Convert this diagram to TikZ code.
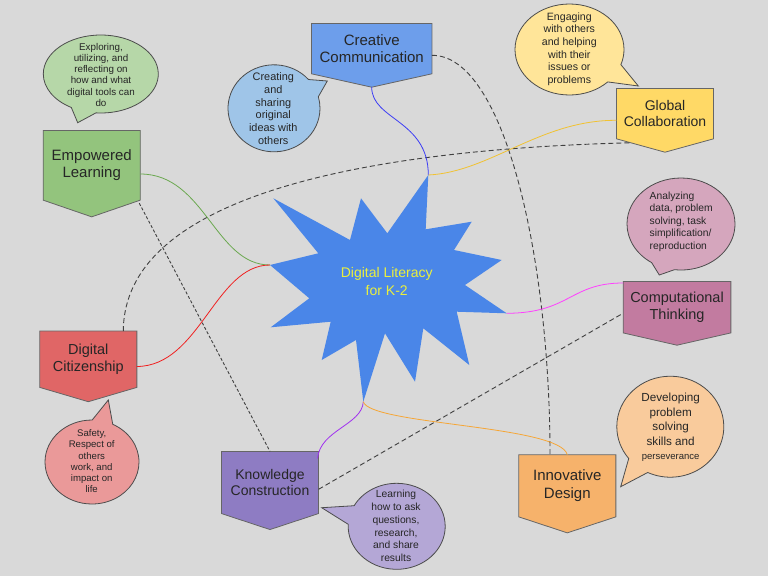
\documentclass[tikz,border=0pt]{standalone}
\usepackage{fontspec}
\setmainfont{Liberation Sans}
\usetikzlibrary{shapes.callouts,calc,backgrounds}
\definecolor{bgc}{HTML}{D9D9D9}
\definecolor{starc}{HTML}{4A86E8}
\definecolor{startext}{RGB}{235,240,60}
\definecolor{fEmp}{HTML}{93C47D}
\definecolor{fCre}{HTML}{6D9EEB}
\definecolor{fGlo}{HTML}{FFD966}
\definecolor{fCom}{HTML}{C27BA0}
\definecolor{fCit}{HTML}{E06666}
\definecolor{fKno}{HTML}{8E7CC3}
\definecolor{fInn}{HTML}{F6B26B}
\definecolor{lEmp}{HTML}{B6D7A8}
\definecolor{lCre}{HTML}{9FC5E8}
\definecolor{lGlo}{HTML}{FFE599}
\definecolor{lCom}{HTML}{D5A6BD}
\definecolor{lCit}{HTML}{EA9999}
\definecolor{lKno}{HTML}{B4A7D6}
\definecolor{lInn}{HTML}{F9CB9C}
\definecolor{cGreen}{HTML}{6AA84F}
\definecolor{cRed}{HTML}{F02020}
\definecolor{cBlue}{HTML}{3C3CF5}
\definecolor{cGold}{HTML}{F1C232}
\definecolor{cMag}{HTML}{FF40FF}
\definecolor{cPur}{HTML}{A030F0}
\definecolor{cOra}{HTML}{F6A636}
\definecolor{dashc}{HTML}{404040}
\newcommand\pentabox[3]{%
  \begin{scope}[on background layer]
    \draw[boxline, fill=#2] (#1.north west) -- (#1.north east) -- (#1.south east)
      -- ($(#1.south)+(0,#3)$) -- (#1.south west) -- cycle;
  \end{scope}}
\begin{document}
\begin{tikzpicture}[x=1pt,y=-1pt,
  boxline/.style={draw=black!60, line width=0.8pt},
  box/.style={rectangle, inner sep=0pt, align=center, text=black!85,
    font=\fontsize{14.5}{17.5}\selectfont},
  bubble/.style={ellipse callout, draw=black!70, line width=0.8pt, inner sep=0pt,
    callout pointer arc=26},
  btext/.style={align=center, text=black!85, inner sep=0pt},
  conn/.style={line width=0.8pt},
  dashline/.style={draw=dashc, line width=0.9pt, dash pattern=on 5pt off 3pt}]
\begin{scope}[on background layer]
\fill[bgc] (0,0) rectangle (768,576);
\end{scope}
\useasboundingbox (0,0) rectangle (768,576);

% star coordinates
\coordinate (s1) at (273.3,198.3); \coordinate (i1) at (350,240);
\coordinate (s2) at (361,198.3);   \coordinate (i2) at (387.3,233.3);
\coordinate (s3) at (428.3,175);   \coordinate (i3) at (425.7,229.3);
\coordinate (s4) at (471.7,221.7); \coordinate (i4) at (454,250);
\coordinate (s5) at (501.7,260);   \coordinate (i5) at (465,285);
\coordinate (s6) at (506.7,313.3); \coordinate (i6) at (456.7,311.7);
\coordinate (s7) at (469.3,365);   \coordinate (i7) at (423.3,328.3);
\coordinate (s8) at (415,381.7);   \coordinate (i8) at (385,333.3);
\coordinate (s9) at (363.3,401.7); \coordinate (i9) at (356,340);
\coordinate (s10) at (321.7,360);  \coordinate (i10) at (330.7,321.7);
\coordinate (s11) at (270.7,327.3);\coordinate (i11) at (309.3,298.3);
\coordinate (s12) at (270,265);    \coordinate (i12) at (318.3,253.3);

% boxes
\node[box, minimum width=96.7, minimum height=69.3, font=\fontsize{15}{17.5}\selectfont] (emp) at (91.7,165.3) {Empowered\\Learning};
\pentabox{emp}{fEmp}{16.7}
\node[box, minimum width=120, minimum height=50, font=\fontsize{15}{17}\selectfont] (cre) at (371.7,48.6) {Creative\\Communication};
\pentabox{cre}{fCre}{13.4}
\node[box, minimum width=96.7, minimum height=50, font=\fontsize{14}{15.5}\selectfont] (glo) at (665,113.6) {Global\\Collaboration};
\pentabox{glo}{fGlo}{13.4}
\node[box, minimum width=107.3, minimum height=51] (com) at (677,307.2) {Computational\\Thinking};
\pentabox{com}{fCom}{12.3}
\node[box, minimum width=96.7, minimum height=56] (cit) at (88.3,359.2) {Digital\\Citizenship};
\pentabox{cit}{fCit}{14.3}
\node[box, minimum width=96.7, minimum height=61.7, font=\fontsize{14}{16.5}\selectfont] (kno) at (270,482.5) {Knowledge\\Construction};
\pentabox{kno}{fKno}{16}
\node[box, minimum width=96.7, minimum height=61.7, font=\fontsize{15}{18}\selectfont] (inn) at (567.3,485.8) {Innovative\\Design};
\pentabox{inn}{fInn}{16}

% dashed connectors
\draw[dashline] ($(cre.east)+(0,6.7)$) .. controls (505,55) and (550,260) .. ($(inn.north)+(-17.3,0)$);
\draw[dashline] ($(glo.south west)+(13,4)$) .. controls (350,150) and (124,200) .. ($(cit.north)+(35,0)$);
\draw[dashline, dash pattern=on 3pt off 2pt] ($(emp.south east)+(-1,3)$) -- (kno.north);
\draw[dashline] ($(kno.east)+(0,6.8)$) -- ($(com.west)+(0,6)$);

% coloured connectors
\draw[conn, cGreen] ($(emp.east)+(0,8.7)$) .. controls (205,174) and (215,265) .. (s12);
\draw[conn, cRed] ($(cit.east)+(0,7.3)$) .. controls (200,366) and (215,265) .. (s12);
\draw[conn, cBlue] ($(cre.south)+(0,13.4)$) .. controls (371.7,120) and (428.3,120) .. (s3);
\draw[conn, cGold] (s3) .. controls (490,172) and (540,120) .. ($(glo.west)+(0,6.7)$);
\draw[conn, cMag] (s6) .. controls (570,313) and (570,283) .. ($(com.north west)+(0,1.5)$);
\draw[conn, cPur] (s9) .. controls (362,425) and (320,430) .. ($(kno.north east)+(-1,7)$);
\draw[conn, cOra] (s9) .. controls (370,425) and (560,425) .. (inn.north);

% star
\fill[starc] (s1) -- (i1) -- (s2) -- (i2) -- (s3) -- (i3) -- (s4) -- (i4) -- (s5) -- (i5)
  -- (s6) -- (i6) -- (s7) -- (i7) -- (s8) -- (i8) -- (s9) -- (i9) -- (s10) -- (i10)
  -- (s11) -- (i11) -- (s12) -- (i12) -- cycle;
\node[align=center, text=startext, inner sep=0pt, font=\fontsize{14}{18.3}\selectfont] (core) at (386.7,281.5) {Digital Literacy\\for K-2};

% callouts
\node[bubble, fill=lEmp, minimum width=115, minimum height=78, callout absolute pointer={(77.7,122.7)}] (c1) at (100.8,74) {};
\node[btext, font=\fontsize{9.8}{11.2}\selectfont] (t1) at (101,74.7) {Exploring,\\utilizing, and\\reflecting on\\how and what\\digital tools can\\do};

\node[bubble, fill=lCre, minimum width=92, minimum height=87, callout absolute pointer={(327.3,81)}] (c2) at (274,108.3) {};
\node[btext, font=\fontsize{10.9}{12.7}\selectfont] (t2) at (273.3,108.5) {Creating\\and\\sharing\\original\\ideas with\\others};

\node[bubble, fill=lGlo, minimum width=109, minimum height=91, callout absolute pointer={(638.3,86)}] (c3) at (569.5,49.5) {};
\node[btext, font=\fontsize{10.6}{12.7}\selectfont] (t3) at (569.3,49.2) {Engaging\\with others\\and helping\\with their\\issues or\\problems};

\node[bubble, fill=lCom, minimum width=108, minimum height=92, callout absolute pointer={(659.3,275)}] (c4) at (681,224) {};
\node[btext, align=left, anchor=west, font=\fontsize{10.3}{12.5}\selectfont] (t4) at (649.5,221.7) {Analyzing\\data, problem\\solving, task\\simplification/\\reproduction};

\node[bubble, fill=lCit, minimum width=94, minimum height=84, callout absolute pointer={(108.3,400)}] (c5) at (92,462) {};
\node[btext, font=\fontsize{9.6}{11.2}\selectfont] (t5) at (91.7,461.3) {Safety,\\Respect of\\others\\work, and\\impact on\\life};

\node[bubble, fill=lKno, minimum width=97, minimum height=86, callout absolute pointer={(321.7,507.7)}] (c6) at (396.7,526.3) {};
\node[btext, font=\fontsize{10.3}{12.7}\selectfont] (t6) at (396,526) {Learning\\how to ask\\questions,\\research,\\and share\\results};

\node[bubble, fill=lInn, minimum width=107, minimum height=101, callout absolute pointer={(620.7,486.7)}] (c7) at (670.3,426.7) {};
\node[btext, font=\fontsize{11.7}{14.5}\selectfont] (t7) at (670.7,427.7) {Developing\\problem\\solving\\skills and\\{\fontsize{9.5}{13}\selectfont perseverance}};
\end{tikzpicture}
\end{document}
